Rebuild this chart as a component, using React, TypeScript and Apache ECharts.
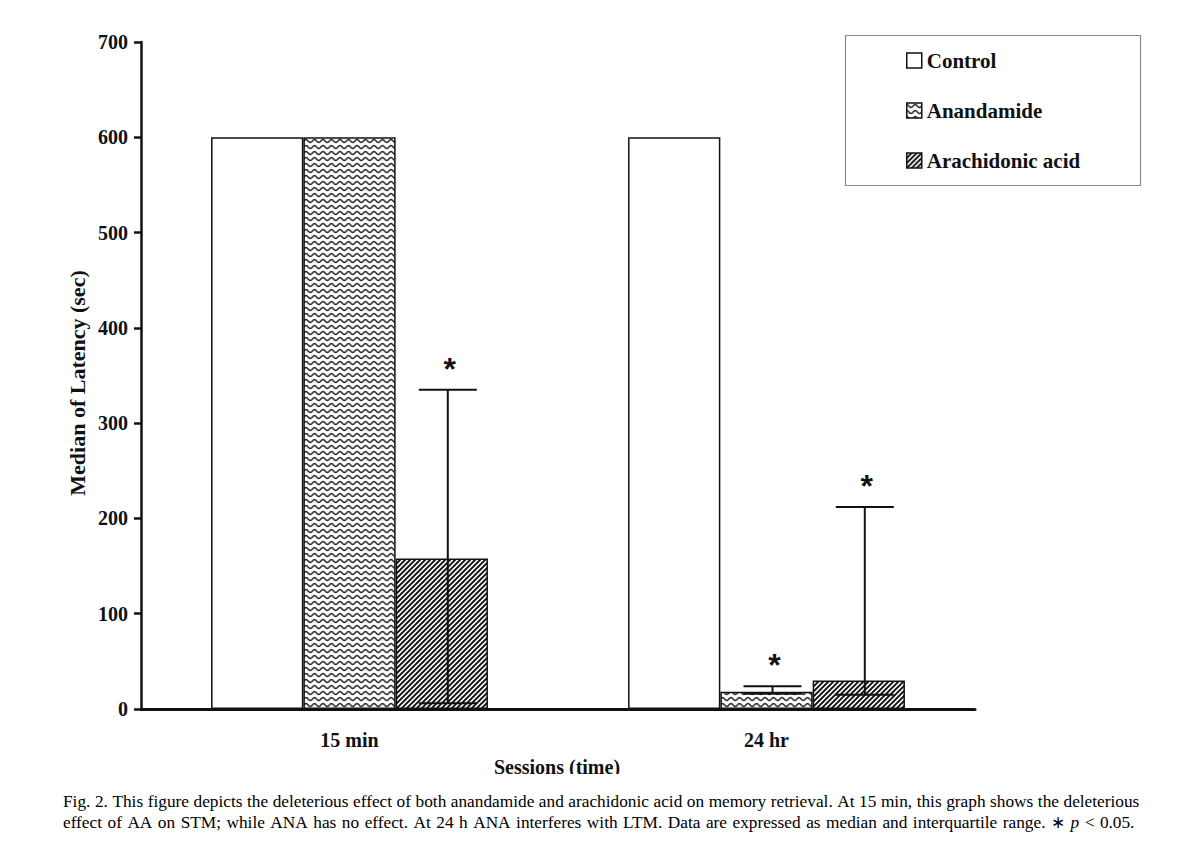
import React, { useEffect, useRef } from "react";
import * as echarts from "echarts";

// Sessions on the x axis and the three treatment groups
const sessions = ["15 min", "24 hr"];
const groupNames = ["Control", "Anandamide", "Arachidonic acid"];

// Median latency (sec) per session
const controlMedian = [600, 600];
const anandamideMedian = [600, 18];
const arachidonicMedian = [158, 30];

// Interquartile ranges: session index, group index, lower and upper quartile
const iqrSession = [0, 1, 1];
const iqrGroup = [2, 1, 2];
const iqrLow = [6, 16, 15];
const iqrHigh = [335, 24, 212];

// y axis range
const yMin = 0;
const yMax = 700;
const yStep = 100;

// Figure caption, two justified lines
const captionLine1 =
  "Fig. 2. This figure depicts the deleterious effect of both anandamide and arachidonic acid on memory retrieval. At 15 min, this graph shows the deleterious";
const captionLine2 =
  "effect of AA on STM; while ANA has no effect. At 24 h ANA interferes with LTM. Data are expressed as median and interquartile range. ∗ p < 0.05.";

const CAT_GAP = 0.336;
const SERIF = '"Liberation Serif", "Times New Roman", serif';
const INK = "#111";
const CAPTION_INK = "#2a2a2a";

// Wavy fill, drawn at 2x and scaled down in the pattern
function wavePattern() {
  const w = 8.5;
  const h = 6;
  const k = 2;
  const c = document.createElement("canvas");
  c.width = w * k;
  c.height = h * k;
  const ctx = c.getContext("2d")!;
  ctx.scale(k, k);
  ctx.fillStyle = "#fff";
  ctx.fillRect(0, 0, w, h);
  ctx.strokeStyle = "#1a1a1a";
  ctx.lineWidth = 1.4;
  ctx.beginPath();
  for (let i = 0; i <= 40; i++) {
    const x = (i / 40) * w;
    const y = 3 - 1.5 * Math.cos((2 * Math.PI * x) / w);
    if (i === 0) ctx.moveTo(x, y);
    else ctx.lineTo(x, y);
  }
  ctx.stroke();
  return { image: c.toDataURL(), repeat: "repeat", imageWidth: w, imageHeight: h };
}

// Diagonal hatch rising to the right
function hatchPattern() {
  const s = 5;
  const k = 2;
  const c = document.createElement("canvas");
  c.width = s * k;
  c.height = s * k;
  const ctx = c.getContext("2d")!;
  ctx.scale(k, k);
  ctx.fillStyle = "#fff";
  ctx.fillRect(0, 0, s, s);
  ctx.strokeStyle = "#111";
  ctx.lineWidth = 1.9;
  ctx.beginPath();
  ctx.moveTo(-1, s + 1);
  ctx.lineTo(s + 1, -1);
  ctx.moveTo(-1, 1);
  ctx.lineTo(1, -1);
  ctx.moveTo(s - 1, s + 1);
  ctx.lineTo(s + 1, s - 1);
  ctx.stroke();
  return { image: c.toDataURL(), repeat: "repeat", imageWidth: s, imageHeight: s };
}

// Turns a line into rich tokens with fixed-width word gaps; "p" is set in italics
function justifiedRich(line: string) {
  return line
    .split(" ")
    .map((w) => (w === "p" ? `{i|${w}}` : `{a|${w}}`))
    .join("{s| }");
}

function captionRich(spaceWidth: number) {
  return {
    a: { fontFamily: SERIF, fontSize: 17.3, color: CAPTION_INK },
    i: { fontFamily: SERIF, fontSize: 17.3, fontStyle: "italic", color: CAPTION_INK },
    s: { fontFamily: SERIF, fontSize: 17.3, width: spaceWidth },
  };
}

export default function App() {
  const ref = useRef<HTMLDivElement>(null);

  useEffect(() => {
    if (!ref.current) return;
    const chart = echarts.init(ref.current, null, { renderer: "svg" });

    const barStyle = (color: any) => ({
      color,
      borderColor: INK,
      borderWidth: 1.5,
    });

    const iqrData = iqrSession.map((s, i) => [s, iqrGroup[i], iqrLow[i], iqrHigh[i]]);

    const option: any = {
      animation: false,
      backgroundColor: "#fff",
      grid: { left: 141, right: 225, top: 42, bottom: 155 },
      legend: {
        orient: "vertical",
        left: 901,
        top: 45,
        itemWidth: 15,
        itemHeight: 15,
        itemGap: 29,
        icon: "rect",
        data: groupNames,
        itemStyle: { borderColor: INK, borderWidth: 1.5 },
        textStyle: {
          fontFamily: SERIF,
          fontWeight: "bold",
          fontSize: 21,
          lineHeight: 21,
          color: INK,
        },
      },
      xAxis: {
        type: "category",
        data: sessions,
        axisLine: { lineStyle: { color: INK, width: 3 } },
        axisTick: { show: false },
        axisLabel: {
          margin: 21,
          fontFamily: SERIF,
          fontWeight: "bold",
          fontSize: 20,
          color: INK,
        },
      },
      yAxis: {
        type: "value",
        min: yMin,
        max: yMax,
        interval: yStep,
        splitLine: { show: false },
        axisLine: { show: true, lineStyle: { color: INK, width: 2.5 } },
        axisTick: { show: true, length: 7, lineStyle: { color: INK, width: 2.5 } },
        axisLabel: {
          margin: 13,
          fontFamily: SERIF,
          fontWeight: "bold",
          fontSize: 20,
          color: INK,
        },
      },
      series: [
        {
          name: groupNames[0],
          type: "bar",
          data: controlMedian,
          barGap: "0%",
          barCategoryGap: `${CAT_GAP * 100}%`,
          itemStyle: barStyle("#fff"),
        },
        {
          name: groupNames[1],
          type: "bar",
          data: anandamideMedian,
          barGap: "0%",
          barCategoryGap: `${CAT_GAP * 100}%`,
          itemStyle: barStyle(wavePattern()),
        },
        {
          name: groupNames[2],
          type: "bar",
          data: arachidonicMedian,
          barGap: "0%",
          barCategoryGap: `${CAT_GAP * 100}%`,
          itemStyle: barStyle(hatchPattern()),
        },
        {
          name: "iqr",
          type: "custom",
          z: 5,
          data: iqrData,
          renderItem: (_params: any, api: any) => {
            const s = api.value(0);
            const g = api.value(1);
            const lo = api.value(2);
            const hi = api.value(3);
            const band = api.size([1, 0])[0];
            const barW = (band * (1 - CAT_GAP)) / 3;
            const top = api.coord([s, hi]);
            const bottom = api.coord([s, lo]);
            const x = top[0] + (g - 1) * barW + 6;
            const half = 29;
            const line = { stroke: INK, lineWidth: 2 };
            return {
              type: "group",
              children: [
                { type: "line", shape: { x1: x, y1: top[1], x2: x, y2: bottom[1] }, style: line },
                { type: "line", shape: { x1: x - half, y1: top[1], x2: x + half, y2: top[1] }, style: line },
                { type: "line", shape: { x1: x - half, y1: bottom[1], x2: x + half, y2: bottom[1] }, style: line },
                {
                  type: "text",
                  x: x + 2,
                  y: top[1] - 21,
                  style: {
                    text: "*",
                    font: 'bold 32px "Liberation Sans", sans-serif',
                    align: "center",
                    verticalAlign: "middle",
                    fill: INK,
                  },
                },
              ],
            };
          },
        },
      ],
      graphic: [
        {
          type: "rect",
          shape: { x: 845.5, y: 35.5, width: 295, height: 150 },
          style: { fill: "none", stroke: "#8a8a8a", lineWidth: 1.2 },
        },
        {
          type: "text",
          x: 77,
          y: 383,
          rotation: Math.PI / 2,
          style: {
            text: "Median of Latency (sec)",
            font: `bold 22px ${SERIF}`,
            align: "center",
            verticalAlign: "middle",
            fill: INK,
          },
        },
        {
          type: "text",
          x: 557,
          y: 767,
          style: {
            text: "Sessions (time)",
            font: `bold 20px ${SERIF}`,
            align: "center",
            verticalAlign: "middle",
            fill: INK,
          },
        },
        {
          type: "rect",
          z: 10,
          shape: { x: 480, y: 774, width: 160, height: 14 },
          style: { fill: "#fff" },
        },
        {
          type: "text",
          x: 63,
          y: 801,
          style: {
            text: justifiedRich(captionLine1),
            verticalAlign: "middle",
            rich: captionRich(4.55),
          },
        },
        {
          type: "text",
          x: 63,
          y: 822,
          style: {
            text: justifiedRich(captionLine2),
            verticalAlign: "middle",
            rich: captionRich(5.5),
          },
        },
      ],
    };

    chart.setOption(option);
    return () => chart.dispose();
  }, []);

  return (
    <div
      ref={ref}
      style={{ position: "fixed", left: 0, top: 0, width: 1200, height: 864, background: "#fff" }}
    />
  );
}
